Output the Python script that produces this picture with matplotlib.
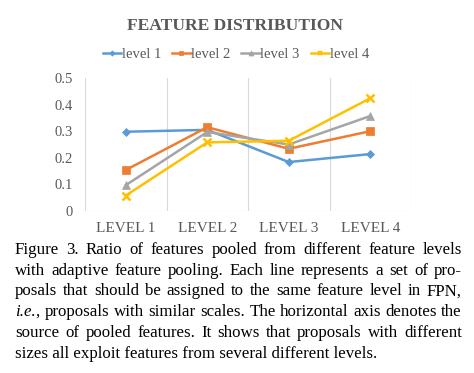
import matplotlib
matplotlib.use("Agg")
import matplotlib.pyplot as plt
from matplotlib.lines import Line2D

categories = ["LEVEL 1", "LEVEL 2", "LEVEL 3", "LEVEL 4"]
series_names = ["level 1", "level 2", "level 3", "level 4"]
level1 = [0.298, 0.305, 0.184, 0.214]
level2 = [0.154, 0.315, 0.234, 0.300]
level3 = [0.097, 0.297, 0.250, 0.357]
level4 = [0.058, 0.258, 0.264, 0.424]
yticks = [0, 0.1, 0.2, 0.3, 0.4, 0.5]
ytick_labels = ["0", "0.1", "0.2", "0.3", "0.4", "0.5"]

title = "FEATURE DISTRIBUTION"
# words wrapped in *...* are set in italics
caption_lines = [
    "Figure 3. Ratio of features pooled from different feature levels",
    "with adaptive feature pooling.  Each line represents a set of pro-",
    "posals that should be assigned to the same feature level in FPN,",
    "*i.e.*, proposals with similar scales. The horizontal axis denotes the",
    "source of pooled features.  It shows that proposals with different",
    "sizes all exploit features from several different levels.",
]

colors = ["#5B9BD5", "#ED7D31", "#A5A5A5", "#FFC000"]
markers = ["D", "s", "^", "x"]
msizes = [4.5, 6, 6, 6]

plt.rcParams["font.family"] = ["Liberation Serif", "DejaVu Serif"]

W, H = 474, 373
fig = plt.figure(figsize=(W / 100, H / 100), dpi=100)
fig.patch.set_facecolor("white")
ax = fig.add_axes([85 / W, 1 - 211 / H, (411 - 85) / W, (211 - 78) / H])

x = list(range(len(categories)))
for vals, name, c, m, ms in zip([level1, level2, level3, level4], series_names, colors, markers, msizes):
    ax.plot(x, vals, color=c, lw=1.8, marker=m, ms=ms, mew=1.8 if m == "x" else 0.5,
            mec=c, mfc=c, label=name, solid_capstyle="round", zorder=3)

ax.set_xlim(-0.5, 3.5)
ax.set_ylim(0, 0.5)
ax.set_yticks(yticks)
ax.set_yticklabels(ytick_labels)
ax.set_xticks(x)
ax.set_xticklabels(categories)
for b in [-0.5, 0.5, 1.5, 2.5, 3.5]:
    ax.axvline(b, color="#D9D9D9", lw=0.8, zorder=1)
for s in ax.spines.values():
    s.set_visible(False)
ax.axhline(0, color="#D9D9D9", lw=0.8, zorder=1)
ax.tick_params(axis="both", length=0, colors="#595959")
ax.tick_params(axis="y", pad=8.5, labelsize=10.5)
ax.tick_params(axis="x", pad=8, labelsize=11)

fig.text(235 / W, 1 - 26.5 / H, title, ha="center", va="center", fontsize=12.6,
         fontweight="bold", color="#595959")

handles = [Line2D([0], [0], color=c, lw=1.8, marker=m, ms=ms * 0.6, mec=c, mfc=c,
                  mew=1.5 if m == "x" else 0.5) for c, m, ms in zip(colors, markers, msizes)]
fig.legend(handles, series_names, loc="center", bbox_to_anchor=(236 / W, 1 - 54 / H),
           ncol=4, frameon=False, fontsize=10.5, handlelength=1.25, handletextpad=0.05,
           columnspacing=0.75, labelcolor="#595959", borderpad=0, borderaxespad=0)

# justified caption
left, right = 15, 462
y0, dy = 250, 20.7
fs = 12.15
fig.canvas.draw()
renderer = fig.canvas.get_renderer()
for i, line in enumerate(caption_lines):
    yy = 1 - (y0 + i * dy) / H
    if i == len(caption_lines) - 1:
        fig.text(left / W, yy, line, ha="left", va="center", fontsize=fs, color="black")
        continue
    words = line.split()
    texts, widths = [], []
    for w in words:
        if w.startswith("*"):
            parts = w.split("*")
            t1 = fig.text(0, yy, parts[1], ha="left", va="center", fontsize=fs,
                          color="black", style="italic")
            w1 = t1.get_window_extent(renderer).width
            t2 = fig.text(0, yy, parts[2], ha="left", va="center", fontsize=fs, color="black")
            w2 = t2.get_window_extent(renderer).width
            texts.append([(t1, 0), (t2, w1)])
            widths.append(w1 + w2)
        else:
            t = fig.text(0, yy, w, ha="left", va="center", fontsize=fs, color="black")
            texts.append([(t, 0)])
            widths.append(t.get_window_extent(renderer).width)
    gap = (right - left - sum(widths)) / (len(words) - 1)
    xpos = left
    for parts, wd in zip(texts, widths):
        for t, off in parts:
            t.set_x((xpos + off) / W)
        xpos += wd + gap

fig.savefig("out.png", dpi=100, facecolor="white")
